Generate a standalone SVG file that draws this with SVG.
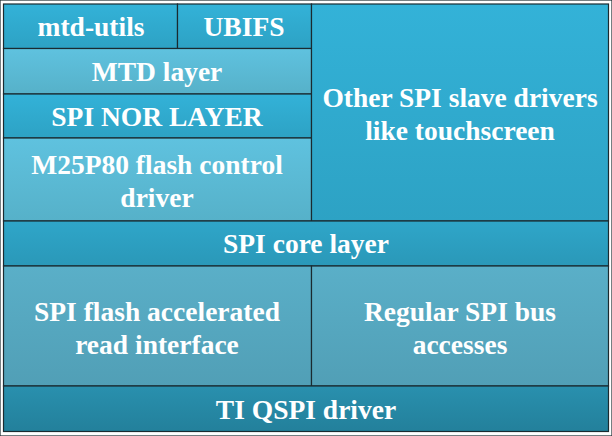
<svg xmlns="http://www.w3.org/2000/svg" width="612" height="436" viewBox="0 0 612 436">
<defs>
<linearGradient id="dk" x1="0" y1="0" x2="0" y2="1"><stop offset="0" stop-color="#33b2d8"/><stop offset="1" stop-color="#2da2c4"/></linearGradient>
<linearGradient id="lt" x1="0" y1="0" x2="0" y2="1"><stop offset="0" stop-color="#5fc2df"/><stop offset="1" stop-color="#56b1c9"/></linearGradient>
<linearGradient id="core" x1="0" y1="0" x2="0" y2="1"><stop offset="0" stop-color="#2fa6c9"/><stop offset="1" stop-color="#2a98b8"/></linearGradient>
<linearGradient id="mid" x1="0" y1="0" x2="0" y2="1"><stop offset="0" stop-color="#5aafc8"/><stop offset="1" stop-color="#519fb6"/></linearGradient>
<linearGradient id="bot" x1="0" y1="0" x2="0" y2="1"><stop offset="0" stop-color="#2990ae"/><stop offset="1" stop-color="#23809b"/></linearGradient>
</defs>
<style>
rect{stroke:#1a2a30;stroke-width:1.2}
text{font-family:"Liberation Serif","Times New Roman",serif;font-weight:bold;font-size:27.5px;fill:#fff;text-anchor:middle}
</style>
<rect x="0" y="0" width="612" height="436" fill="#fff" stroke="none"/>
<g id="mtd-utils"><rect x="3.5" y="4" width="174" height="44.5" fill="url(#dk)"/><text x="91" y="36">mtd-utils</text></g>
<g id="ubifs"><rect x="177.5" y="4" width="134" height="44.5" fill="url(#dk)"/><text x="244" y="36">UBIFS</text></g>
<g id="mtd"><rect x="3.5" y="48.5" width="308" height="45.5" fill="url(#lt)"/><text x="157" y="81">MTD layer</text></g>
<g id="spinor"><rect x="3.5" y="94" width="308" height="44" fill="url(#dk)"/><text x="157" y="126">SPI NOR LAYER</text></g>
<g id="m25p80"><rect x="3.5" y="138" width="308" height="83" fill="url(#lt)"/><text x="157" y="174">M25P80 flash control</text><text x="157" y="207">driver</text></g>
<g id="other"><rect x="311.5" y="4" width="297" height="217" fill="url(#dk)"/><text x="460" y="107">Other SPI slave drivers</text><text x="460" y="140">like touchscreen</text></g>
<g id="spicore"><rect x="3.5" y="221" width="605" height="45" fill="url(#core)"/><text x="306" y="253">SPI core layer</text></g>
<g id="accel"><rect x="3.5" y="266" width="308" height="120" fill="url(#mid)"/><text x="157" y="321">SPI flash accelerated</text><text x="157" y="354">read interface</text></g>
<g id="regular"><rect x="311.5" y="266" width="297" height="120" fill="url(#mid)"/><text x="460" y="321">Regular SPI bus</text><text x="460" y="354">accesses</text></g>
<g id="qspi"><rect x="3.5" y="386" width="605" height="45.5" fill="url(#bot)"/><text x="306" y="419">TI QSPI driver</text></g>
<g id="connectors"/>
</svg>
